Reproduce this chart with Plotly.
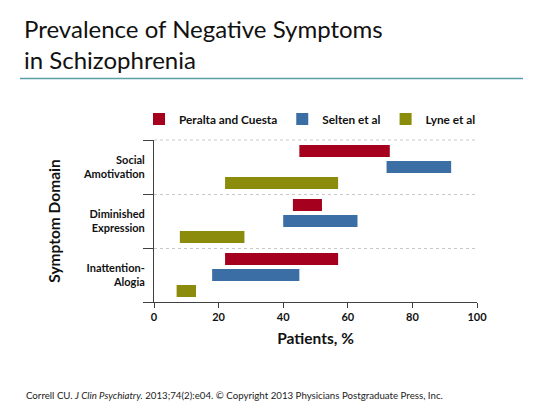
import plotly.graph_objects as go

# symptom domains, bottom to top as drawn
domains = ["Inattention-<br>Alogia", "Diminished<br>Expression", "Social<br>Amotivation"]

# prevalence ranges (% of patients), per study, same order as domains
peralta_low = [22, 43, 45]
peralta_high = [57, 52, 73]
selten_low = [18, 40, 72]
selten_high = [45, 63, 92]
lyne_low = [7, 8, 22]
lyne_high = [13, 28, 57]

x_ticks = [0, 20, 40, 60, 80, 100]

FONT = "Lato"
AXIS_COLOR = "#404040"

# the page body adds an 8px margin, so the figure is 8px smaller than the window
OFF = 8
FIG_W, FIG_H = 540 - OFF, 405 - OFF
L, R, T, B = 146, 63, 132, 103
W, H = FIG_W - L - R, FIG_H - T - B


def px_x(sx):
    # screen pixel -> paper x
    return (sx - OFF - L) / W


def px_y(sy):
    # screen pixel -> paper y
    return (FIG_H - B - (sy - OFF)) / H


fig = go.Figure()

# grouped horizontal bars: first trace ends up at the bottom of each group
studies = [
    ("Lyne et al", lyne_low, lyne_high, "#8C8C0C"),
    ("Selten et al", selten_low, selten_high, "#3B6EA5"),
    ("Peralta and Cuesta", peralta_low, peralta_high, "#A5001E"),
]
for name, lo, hi, color in studies:
    fig.add_trace(go.Bar(
        y=domains,
        x=[h - l for l, h in zip(lo, hi)],
        base=lo,
        orientation="h",
        name=name,
        marker=dict(color=color, line=dict(width=0)),
    ))

fig.update_layout(
    width=FIG_W,
    height=FIG_H,
    margin=dict(l=L, r=R, t=T, b=B, pad=0),
    paper_bgcolor="white",
    plot_bgcolor="white",
    font=dict(family=FONT, color="#1a1a1a"),
    barmode="group",
    bargap=0.11,
    bargroupgap=0.25,
    title=dict(
        text="Prevalence of Negative Symptoms<br>in Schizophrenia",
        font=dict(family=FONT, size=24, color="#111111"),
        xref="container", yref="container",
        x=(24 - OFF) / FIG_W, xanchor="left",
        y=1 - 30 / FIG_H, yanchor="top",
    ),
    legend=dict(
        orientation="h",
        traceorder="reversed",
        x=px_x(139), xanchor="left",
        y=px_y(119), yanchor="middle",
        font=dict(family=FONT, size=11.8, color="#111111", weight="bold"),
        bgcolor="rgba(0,0,0,0)",
    ),
    showlegend=True,
)

fig.update_xaxes(
    range=[0, 100],
    tickvals=x_ticks,
    ticks="outside", ticklen=5, tickcolor=AXIS_COLOR,
    showline=True, linecolor=AXIS_COLOR, linewidth=1,
    showgrid=False, zeroline=False,
    tickfont=dict(family=FONT, size=11, color="#111111", weight="bold"),
    title=dict(text="Patients, %", standoff=10,
               font=dict(family=FONT, size=15.5, color="#111111", weight="bold")),
    fixedrange=True,
)

fig.update_yaxes(
    categoryorder="array", categoryarray=domains,
    tickson="boundaries",
    ticks="outside", ticklen=10, tickcolor=AXIS_COLOR,
    ticklabelstandoff=6,
    showline=True, linecolor=AXIS_COLOR, linewidth=1,
    showgrid=True, gridcolor="#c8c8c8", griddash="dot", gridwidth=1,
    zeroline=False,
    tickfont=dict(family=FONT, size=11, color="#111111", weight="bold"),
    title=dict(text="Symptom Domain", standoff=18,
               font=dict(family=FONT, size=15.5, color="#111111", weight="bold")),
    fixedrange=True,
)

# dotted rule along the top boundary (plotly skips the grid line at the range edge)
fig.add_shape(
    type="line", xref="paper", yref="paper",
    x0=0, x1=px_x(478), y0=1, y1=1,
    line=dict(color="#c8c8c8", width=1, dash="dot"),
)

# teal rule under the slide title
fig.add_shape(
    type="line", xref="paper", yref="paper",
    x0=px_x(20), x1=px_x(523), y0=px_y(78.5), y1=px_y(78.5),
    line=dict(color="#5A9EA8", width=1.5),
)

# source line
fig.add_annotation(
    text="Correll CU. <i>J Clin Psychiatry.</i> 2013;74(2):e04. © Copyright 2013 Physicians Postgraduate Press, Inc.",
    xref="paper", yref="paper",
    x=px_x(24), xanchor="left",
    y=px_y(395), yanchor="middle",
    showarrow=False,
    font=dict(family=FONT, size=9.7, color="#222222"),
)

fig.write_html("out.html")
